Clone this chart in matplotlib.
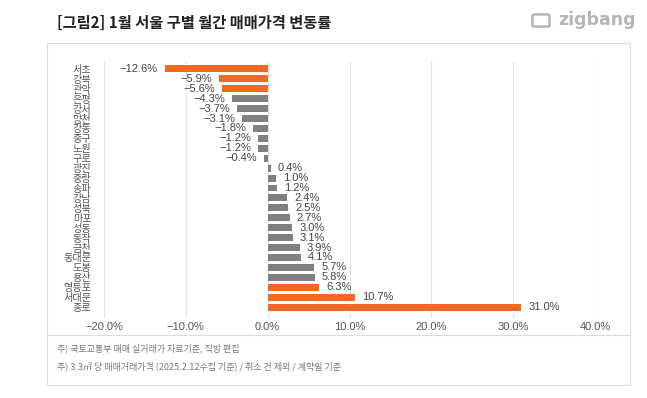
import matplotlib
matplotlib.use("Agg")
import matplotlib.pyplot as plt
from matplotlib.patches import Rectangle, FancyBboxPatch
from matplotlib.lines import Line2D

plt.rcParams['font.family'] = ['Noto Sans CJK KR', 'DejaVu Sans']

districts = ["서초", "강북", "관악", "은평", "강서", "양천", "강동", "중구", "노원", "구로",
             "광진", "중랑", "송파", "강남", "성북", "마포", "성동", "동작", "금천", "동대문",
             "도봉", "용산", "영등포", "서대문", "종로"]
values = [-12.6, -5.9, -5.6, -4.3, -3.7, -3.1, -1.8, -1.2, -1.2, -0.4,
          0.4, 1.0, 1.2, 2.4, 2.5, 2.7, 3.0, 3.1, 3.9, 4.1,
          5.7, 5.8, 6.3, 10.7, 31.0]
xticks = [-20, -10, 0, 10, 20, 30, 40]
title = "[그림2] 1월 서울 구별 월간 매매가격 변동률"
notes = ["주) 국토교통부 매매 실거래가 자료기준, 직방 편집",
         "주) 3.3㎡ 당 매매거래가격 (2025.2.12수집 기준) / 취소 건 제외 / 계약일 기준"]

ORANGE = "#F26A21"
GRAY = "#808080"
n = len(values)
colors = [ORANGE if (i < 3 or i >= n - 3) else GRAY for i in range(n)]
NUMFONT = ["Liberation Sans", "DejaVu Sans"]

W, H = 647, 398
fig = plt.figure(figsize=(W / 100, H / 100), dpi=100)
fig.patch.set_facecolor("white")

# frame
fig.add_artist(Rectangle((47 / W, 1 - 385 / H), (630 - 47) / W, (385 - 43) / H,
                         transform=fig.transFigure, fill=False, ec="#dddddd", lw=0.8))
fig.add_artist(Line2D([47 / W, 630 / W], [1 - 335 / H, 1 - 335 / H],
                      transform=fig.transFigure, color="#dddddd", lw=0.8))

ax = fig.add_axes([104 / W, 1 - 318 / H, (595 - 104) / W, (318 - 62) / H])
pos = list(range(n))
ax.barh(pos, values, height=0.7, color=colors, zorder=3)
ax.set_xlim(-20, 40)
ax.set_ylim(n - 1 + 1.1, -0.7)
ax.set_xticks(xticks)
ax.set_xticklabels([f"{t:.1f}%".replace("-", "−") for t in xticks], fontsize=8,
                   color="#555555", family=NUMFONT)
ax.set_yticks(pos)
ax.set_yticklabels(districts, fontsize=7.3, color="#555555")
ax.tick_params(axis="both", length=0)
ax.tick_params(axis="y", pad=9)
ax.tick_params(axis="x", pad=3)
ax.grid(axis="x", color="#e3e3e3", lw=0.8, zorder=0)
for s in ax.spines.values():
    s.set_visible(False)

for i, v in enumerate(values):
    lbl = f"{v:.1f}%".replace("-", "−")
    if v < 0:
        ax.annotate(lbl, (v, i), xytext=(-5, 0), textcoords="offset points",
                    ha="right", va="center", fontsize=8, color="#444444", zorder=4,
                    family=NUMFONT)
    else:
        ax.annotate(lbl, (v, i), xytext=(5, 0), textcoords="offset points",
                    ha="left", va="center", fontsize=8, color="#444444", zorder=4,
                    family=NUMFONT)

fig.text(57 / W, 1 - 23 / H, title, fontsize=11, fontweight="bold", color="#222222",
         ha="left", va="center")
fig.text(636 / W, 1 - 20 / H, "zigbang", fontsize=12.5, fontweight="bold", color="#b5b5b5",
         ha="right", va="center", family=["DejaVu Sans"])
logo = FancyBboxPatch((535 / W, 1 - 25 / H), 12 / W, 9 / H,
                      boxstyle="round,pad=0.004", transform=fig.transFigure,
                      fill=False, ec="#b5b5b5", lw=1.8)
fig.add_artist(logo)

fig.text(57 / W, 1 - 348 / H, notes[0], fontsize=6.5, color="#777777", ha="left", va="center")
fig.text(57 / W, 1 - 366 / H, notes[1], fontsize=6.5, color="#777777", ha="left", va="center")

fig.savefig("out.png", dpi=100, facecolor="white")
